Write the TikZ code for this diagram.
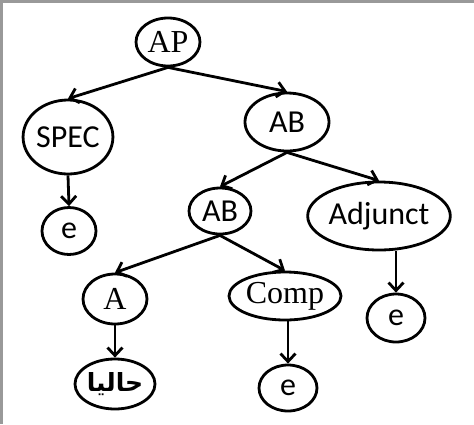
\documentclass[tikz,border=0pt]{standalone}
\usepackage{fontspec}
\setmainfont{Liberation Serif}
\newfontfamily\calfont{Carlito}
\newfontfamily\arabicfont[Script=Arabic]{DejaVu Sans}
\TeXXeTstate=1
\usetikzlibrary{shapes.geometric,arrows.meta}
\begin{document}
\begin{tikzpicture}[x=1pt,y=-1pt,
  nd/.style={ellipse,draw=black,line width=2.8pt,inner sep=0pt,fill=white},
  serif/.style={font=\fontsize{32}{34}\selectfont},
  sans/.style={font=\calfont\fontsize{32}{34}\selectfont},
  arr/.style={line width=2.8pt,-{Straight Barb[length=8pt,width=15pt,line width=2.8pt]}}]
\useasboundingbox (0,0) rectangle (474,424);
\fill[white] (0,0) rectangle (474,424);
\fill[gray!80] (0,0) rectangle (474,2.5);
\fill[gray!80] (0,0) rectangle (2.5,424);
\node[nd,serif,minimum width=64pt,minimum height=48pt] (ap) at (168,42) {AP};
\node[nd,sans,minimum width=88pt,minimum height=74pt] (spec) at (68,137) {SPEC};
\node[nd,sans,minimum width=84pt,minimum height=58pt] (ab) at (287,122) {AB};
\node[nd,sans,minimum width=54pt,minimum height=47pt] (e1) at (69,231) {e};
\node[nd,sans,minimum width=62pt,minimum height=46pt] (ab2) at (220,211) {AB};
\node[nd,sans,minimum width=138pt,minimum height=68pt] (adj) at (379,216) {Adjunct};
\node[nd,serif,minimum width=64pt,minimum height=50pt] (a) at (115,299) {A};
\node[nd,serif,minimum width=112pt,minimum height=48pt] (comp) at (285,296) {Comp};
\node[nd,sans,minimum width=58pt,minimum height=48pt] (e3) at (396,318) {e};
\node[nd,minimum width=80pt,minimum height=50pt,font=\arabicfont\bfseries\fontsize{25}{27}\selectfont] (hal) at (115,384) {\beginR حاليا\endR};
\node[nd,sans,minimum width=58pt,minimum height=46pt] (e2) at (288,388) {e};
\draw[arr] (ap.south) -- (spec.north);
\draw[arr] (ap.south) -- (ab.north);
\draw[arr] (ab.south) -- (ab2.north);
\draw[arr] (ab.south) -- (adj.north);
\draw[arr] (spec.south) -- (e1.north);
\draw[arr] (ab2.south) -- (a.north);
\draw[arr] (ab2.south) -- (comp.north);
\draw[arr] (a.south) -- (hal.north);
\draw[arr] (e2.north |- comp.south) -- (e2.north);
\draw[arr] (e3.north |- adj.south) -- (e3.north);
\end{tikzpicture}
\end{document}
